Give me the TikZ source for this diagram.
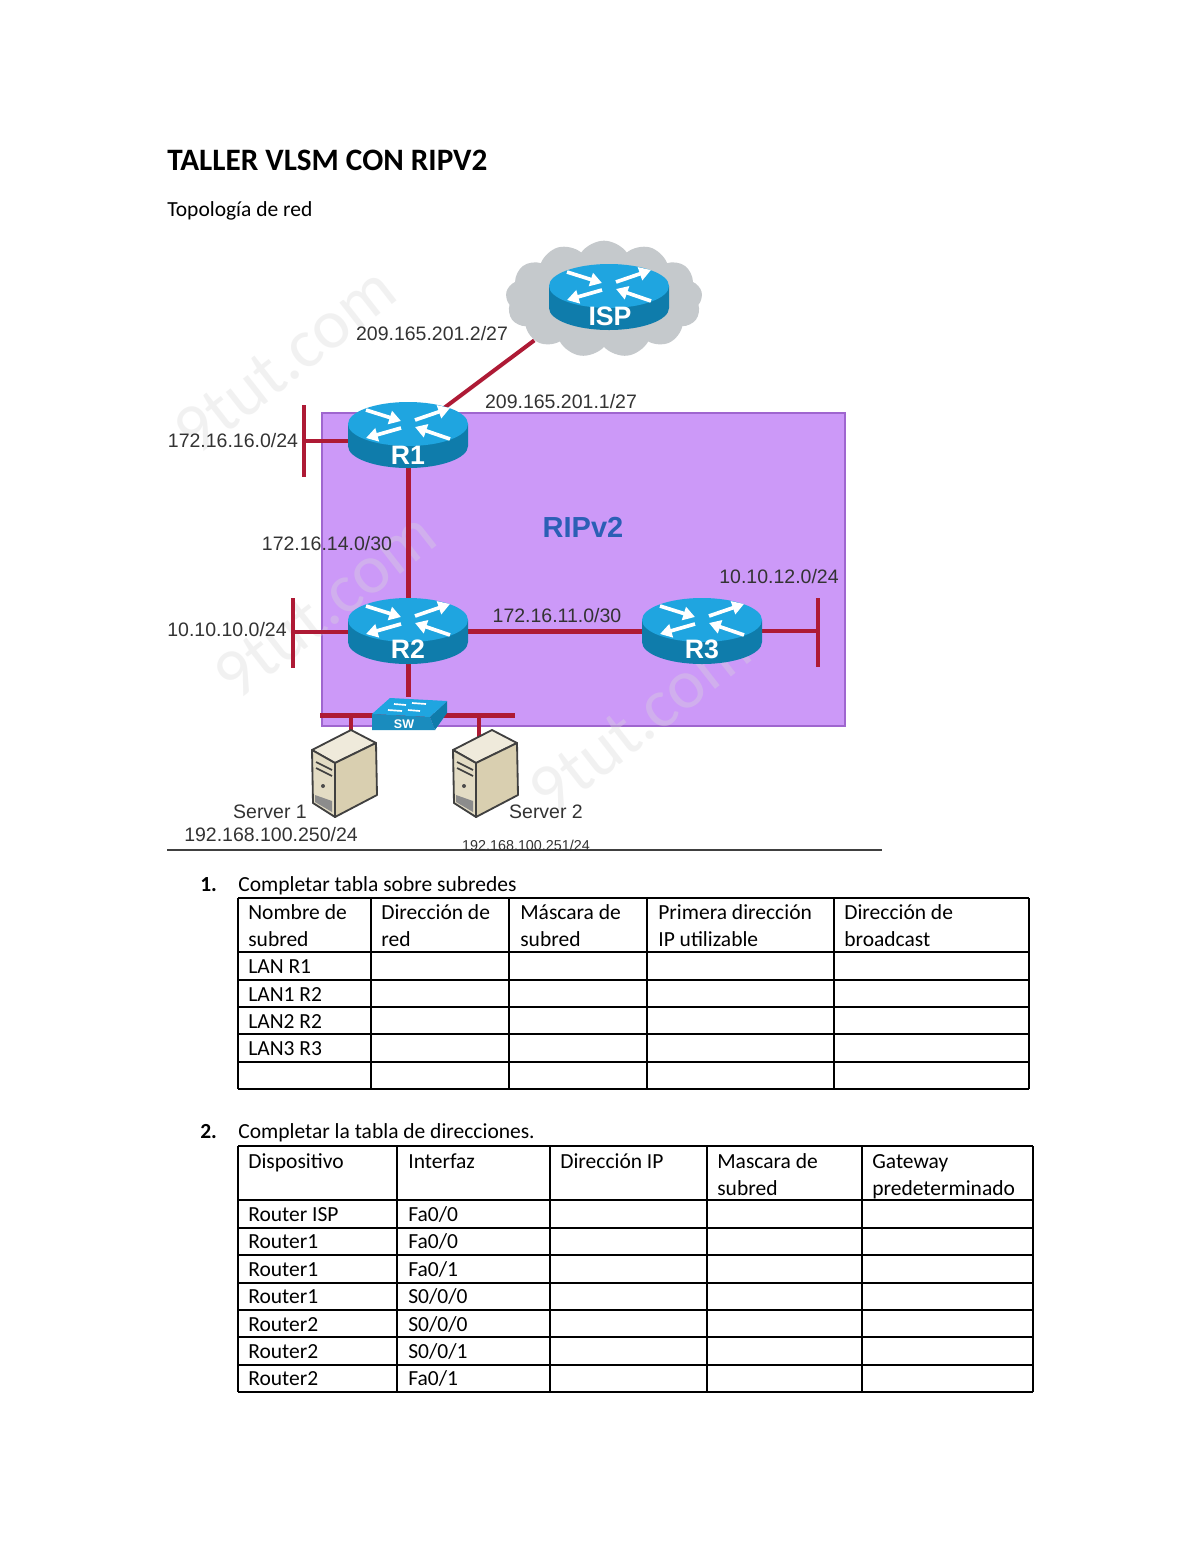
\documentclass[tikz,border=0pt]{standalone}
\usepackage{fontspec}
\setmainfont{Carlito}
\newfontfamily\labelfont{Liberation Sans}
\usetikzlibrary{arrows.meta,calc,shapes.symbols,shapes.geometric}

\definecolor{linkred}{HTML}{AE1A35}
\definecolor{ripfill}{HTML}{CC99F8}
\definecolor{ripedge}{HTML}{9F66CF}
\definecolor{routertop}{HTML}{1FA5E0}
\definecolor{routerbody}{HTML}{0F7CAB}
\definecolor{cloudgray}{HTML}{C5C9CC}
\definecolor{labelgray}{HTML}{333333}
\definecolor{ripblue}{HTML}{2B5FB5}
\definecolor{servertop}{HTML}{EFEADB}
\definecolor{serverleft}{HTML}{E3DCC4}
\definecolor{serverright}{HTML}{D9CFB0}

\pgfdeclarelayer{backlayer}
\pgfdeclarelayer{linklayer}
\pgfsetlayers{backlayer,linklayer,main}

\tikzset{
  redlink/.style={draw=linkred,line width=3pt},
  redstub/.style={draw=linkred,line width=2.4pt},
  netlabel/.style={font=\labelfont\fontsize{11.7}{14}\selectfont,text=labelgray,inner sep=0pt},
  routernode/.style={ellipse,minimum width=72pt,minimum height=39pt,inner sep=0pt},
  routerlabel/.style={font=\labelfont\bfseries\fontsize{16}{18}\selectfont,text=white,inner sep=0pt},
  bodytext/.style={font=\fontsize{12.9}{15}\selectfont,anchor=base west,inner sep=0pt,text=black},
  gridline/.style={draw=black,line width=1.3pt},
  watermark/.style={font=\rmfamily\fontsize{42}{44}\selectfont,text=gray!30,opacity=.35,inner sep=0pt},
  routerarrow/.style={white,line width=2.2pt,-{Triangle[length=7pt,width=8pt]}},
  routericon/.pic={
    \fill[routerbody] (-60,-11) -- (-60,11) arc (180:0:60 and 22) -- (60,-11) -- cycle;
    \fill[routertop] (0,-11) ellipse (60 and 22);
    \draw[routerarrow] (-42,-25) -- (-7,-14);
    \draw[routerarrow] (7,-15) -- (42,-27);
    \draw[routerarrow] (-7,-7) -- (-42,3);
    \draw[routerarrow] (42,4) -- (7,-8);
  },
  servericon/.pic={
    \fill[draw=black!75,line width=1.1pt,fill=servertop,line join=round] (6,-43) -- (-33,-23) -- (-10,-10) -- (31,-30) -- cycle;
    \fill[draw=black!75,line width=1.1pt,fill=serverleft,line join=round] (-33,-23) -- (-32,30) -- (-10,44) -- (-10,-10) -- cycle;
    \fill[draw=black!75,line width=1.1pt,fill=serverright,line join=round] (-10,-10) -- (-10,44) -- (32,22) -- (31,-30) -- cycle;
    \draw[black!75,line width=1pt] (-29,-11) -- (-13,-3) (-29,-5) -- (-13,3);
    \fill[black!70] (-22,13) circle (2);
    \fill[black!45] (-30,22) -- (-13,28) -- (-13,39) -- (-30,29) -- cycle;
  }
}

\begin{document}
\begin{tikzpicture}[x=0.6pt,y=-0.6pt]
    \useasboundingbox (0,0) rectangle (1200,1553);

    % title
    \node[bodytext,font=\bfseries\fontsize{18.7}{21}\selectfont] (title) at (167,170) {TALLER VLSM CON RIPV2};
    \node[bodytext] (topo) at (167,216) {Topología de red};

    % the RIP area and the marks under it
    \begin{pgfonlayer}{backlayer}
      \fill[white] (0,0) rectangle (1200,1553);
      \draw[draw=ripedge,fill=ripfill,line width=1pt] (322,413) rectangle (845,726);
      \node[watermark,rotate=38] (mark1) at (285,360) {9tut.com};
      \node[watermark,rotate=38] (mark2) at (325,605) {9tut.com};
      \node[watermark,rotate=38] (mark3) at (640,720) {9tut.com};
      \draw[black!75,line width=1pt] (167,850) -- (882,850);
    \end{pgfonlayer}

    % these are the devices
    \node[cloud,cloud puffs=13,cloud puff arc=110,aspect=1.7,fill=cloudgray,minimum width=118pt,minimum height=70pt,inner sep=0pt] (ISPcloud) at (604,299) {};
    \node[routernode] (ISP) at (609,297) {};
    \node[routernode] (R1) at (408,435) {};
    \node[routernode] (R2) at (408,631) {};
    \node[routernode] (R3) at (702,631) {};
    \pic at (ISP) {routericon};
    \pic at (R1) {routericon};
    \pic at (R2) {routericon};
    \pic at (R3) {routericon};
    \node[routerlabel] (ISPname) at ($(ISP)+(1,19)$) {ISP};
    \node[routerlabel] (R1name) at ($(R1)+(0,20)$) {R1};
    \node[routerlabel] (R2name) at ($(R2)+(0,18)$) {R2};
    \node[routerlabel] (R3name) at ($(R3)+(0,18)$) {R3};

    % the switch
    \node[inner sep=0pt,minimum width=45pt,minimum height=20pt] (SW) at (408,714) {};
    \fill[fill=routertop!85!black] ($(SW)+(-36,0)$) -- ($(SW)+(22,3)$) -- ($(SW)+(27,16)$) -- ($(SW)+(-36,16)$) -- cycle;
    \fill[fill=routerbody] ($(SW)+(22,3)$) -- ($(SW)+(39,-13)$) -- ($(SW)+(39,-1)$) -- ($(SW)+(27,16)$) -- cycle;
    \fill[fill=routertop] ($(SW)+(-36,0)$) -- ($(SW)+(-18,-16)$) -- ($(SW)+(39,-13)$) -- ($(SW)+(22,3)$) -- cycle;
    \draw[white,line width=1pt] ($(SW)+(-14,-10)$) -- ($(SW)+(-2,-9)$) ($(SW)+(4,-11)$) -- ($(SW)+(18,-10)$) ($(SW)+(-20,-4)$) -- ($(SW)+(-6,-3)$) ($(SW)+(0,-4)$) -- ($(SW)+(12,-3)$);
    \node[font=\labelfont\bfseries\fontsize{7.5}{9}\selectfont,text=white,inner sep=0pt] (SWname) at (404,724) {SW};

    % the servers
    \node[inner sep=0pt,minimum width=39pt,minimum height=52pt] (S1) at (345,773) {};
    \node[inner sep=0pt,minimum width=39pt,minimum height=52pt] (S2) at (486,773) {};
    \pic at (S1) {servericon};
    \pic at (S2) {servericon};

    % free ends of the links
    \coordinate (stubA) at (304,441);
    \coordinate (stubAtop) at (304,405);
    \coordinate (stubAbot) at (304,477);
    \coordinate (stubB) at (293,632);
    \coordinate (stubBtop) at (293,598);
    \coordinate (stubBbot) at (293,668);
    \coordinate (stubC) at (818,631);
    \coordinate (stubCtop) at (818,598);
    \coordinate (stubCbot) at (818,667);
    \coordinate (busL) at (320,715);
    \coordinate (busR) at (515,715);
    \coordinate (dropA) at (351,715);
    \coordinate (dropB) at (479,715);

    \begin{pgfonlayer}{linklayer}
      \draw[redstub] (R1) -- (ISPcloud.south west);
      \draw[redlink] (R1) -- (R2);
      \draw[redlink] (R2) -- (R3);
      \draw[redlink] (R2) -- (SW);
      \draw[redstub] (stubA) -- (stubA -| R1);
      \draw[redstub] (stubAtop) -- (stubAbot);
      \draw[redstub] (stubB) -- (stubB -| R2);
      \draw[redstub] (stubBtop) -- (stubBbot);
      \draw[redstub] (R3) -- (stubC);
      \draw[redstub] (stubCtop) -- (stubCbot);
      \draw[redlink] (busL) -- (busR);
      \draw[redstub] (dropA) -- (dropA |- S1);
      \draw[redstub] (dropB) -- (dropB |- S2);
    \end{pgfonlayer}

    % the labels of the networks
    \node[netlabel] (ispaddr) at (432,334) {209.165.201.2/27};
    \node[netlabel] (wanaddr) at (561,402) {209.165.201.1/27};
    \node[netlabel] (lanone) at (233,441) {172.16.16.0/24};
    \node[netlabel] (linkone) at (327,544) {172.16.14.0/30};
    \node[netlabel] (lantwo) at (227,630) {10.10.10.0/24};
    \node[netlabel] (linktwo) at (557,616) {172.16.11.0/30};
    \node[netlabel] (lanthree) at (779,577) {10.10.12.0/24};
    \node[netlabel] (srvonename) at (270,812) {Server 1};
    \node[netlabel] (srvoneaddr) at (271,835) {192.168.100.250/24};
    \node[netlabel] (srvtwoname) at (546,812) {Server 2};
    \node[netlabel,font=\labelfont\fontsize{8.6}{10}\selectfont] (srvtwoaddr) at (526,845) {192.168.100.251/24};
    \node[font=\labelfont\bfseries\fontsize{17.4}{19}\selectfont,text=ripblue,inner sep=0pt] (riplabel) at (583,527) {RIPv2};

    % first table
    \node[bodytext,font=\bfseries\fontsize{12.9}{15}\selectfont] (numone) at (200,891) {1.};
    \node[bodytext] (askone) at (238,891) {Completar tabla sobre subredes};
    \foreach \x in {238,371,509,647,834,1029}
      \draw[gridline] (\x,898) -- (\x,1089);
    \foreach \y in {898,952,980,1007,1034,1062,1089}
      \draw[gridline] (238,\y) -- (1029,\y);
    \foreach \x/\y/\txt [count=\i] in {248/919/Nombre de,248/946/subred,381/919/Dirección de,381/946/red,520/919/Máscara de,520/946/subred,658/919/Primera dirección,658/946/IP utilizable,844/919/Dirección de,844/946/broadcast,248/973/LAN R1,248/1001/LAN1 R2,248/1028/LAN2 R2,248/1055/LAN3 R3}
      \node[bodytext] (a\i) at (\x,\y) {\txt};

    % second table
    \node[bodytext,font=\bfseries\fontsize{12.9}{15}\selectfont] (numtwo) at (200,1138) {2.};
    \node[bodytext] (asktwo) at (238,1138) {Completar la tabla de direcciones.};
    \foreach \x in {238,397,550,707,862,1033}
      \draw[gridline] (\x,1146) -- (\x,1392);
    \foreach \y in {1146,1200,1228,1255,1283,1310,1337,1365,1392}
      \draw[gridline] (238,\y) -- (1033,\y);
    \foreach \x/\y/\txt [count=\i] in {248/1168/Dispositivo,408/1168/Interfaz,560/1168/Dirección IP,717/1168/Mascara de,717/1195/subred,872/1168/Gateway,872/1195/predeterminado,248/1221/Router ISP,408/1221/{Fa0/0},248/1248/Router1,408/1248/{Fa0/0},248/1276/Router1,408/1276/{Fa0/1},248/1303/Router1,408/1303/{S0/0/0},248/1331/Router2,408/1331/{S0/0/0},248/1358/Router2,408/1358/{S0/0/1},248/1385/Router2,408/1385/{Fa0/1}}
      \node[bodytext] (b\i) at (\x,\y) {\txt};

\end{tikzpicture}
\end{document}
